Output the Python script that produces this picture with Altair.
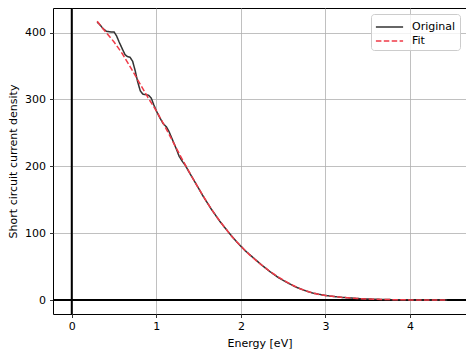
import altair as alt
import pandas as pd

orig_x = [0.30, 0.33, 0.37, 0.41, 0.46, 0.50, 0.53, 0.56, 0.60, 0.63, 0.66, 0.69, 0.72, 0.75, 0.78, 0.81,
          0.84, 0.88, 0.91, 0.94, 0.97, 1.00, 1.04, 1.08, 1.12, 1.15, 1.19, 1.23, 1.27, 1.31, 1.34, 1.38,
          1.45, 1.55, 1.65, 1.75, 1.85, 1.95, 2.05, 2.15, 2.25, 2.35, 2.45, 2.55, 2.65, 2.75, 2.85, 2.95,
          3.05, 3.20, 3.40, 3.60, 3.80, 4.00, 4.20, 4.44]
orig_y = [416, 412, 406, 402, 401, 401, 395, 386, 375, 367, 364, 363, 357, 343, 326, 313,
          308, 307, 306, 302, 292, 283, 273, 264, 259, 252, 240, 228, 215, 207, 202, 193,
          178, 156, 136, 118, 102, 87, 74, 63, 52, 42, 33, 26, 19.5, 14.5, 10.5, 8,
          6, 4, 2.2, 1.2, 0.6, 0.3, 0.15, 0.05]

fit_x = [0.30, 0.40, 0.50, 0.60, 0.70, 0.80, 0.90, 1.00, 1.10, 1.20, 1.30, 1.40, 1.50, 1.60, 1.70, 1.80,
         1.90, 2.00, 2.10, 2.20, 2.30, 2.40, 2.50, 2.60, 2.70, 2.80, 2.90, 3.00, 3.20, 3.40, 3.60, 3.80,
         4.00, 4.20, 4.44]
fit_y = [417, 401, 386, 368, 347, 325, 303, 283, 260, 236, 212, 189, 167, 146, 127, 110,
         94, 80.5, 68, 57, 47, 38, 30, 23, 17, 12.5, 9, 6.8, 4, 2.2, 1.2, 0.6,
         0.3, 0.15, 0.05]

series_names = ["Original", "Fit"]
x_ticks = [0, 1, 2, 3, 4]
y_ticks = [0, 100, 200, 300, 400]

df_orig = pd.DataFrame({"Energy": orig_x, "J": orig_y, "Series": series_names[0]})
df_fit = pd.DataFrame({"Energy": fit_x, "J": fit_y, "Series": series_names[1]})

xscale = alt.Scale(domain=[-0.222, 4.662], nice=False, zero=False)
yscale = alt.Scale(domain=[-20.8, 436.8], nice=False, zero=False)

font = "DejaVu Sans"

legend = alt.Legend(title=None, orient="none", legendX=318, legendY=6,
                    fillColor="rgba(255,255,255,0.8)", strokeColor="#cccccc", cornerRadius=3,
                    padding=4, symbolType="M-1.7,0H1.7", symbolSize=256,
                    symbolOffset=5.5, labelOffset=13.5,
                    symbolStrokeWidth=1.5, labelFontSize=11, labelFont=font,
                    labelColor="black", rowPadding=0)

enc = dict(
    x=alt.X("Energy:Q", scale=xscale,
            axis=alt.Axis(title="Energy [eV]", values=x_ticks, format="d",
                          titleBaseline="alphabetic", titleY=32)),
    y=alt.Y("J:Q", scale=yscale,
            axis=alt.Axis(title="Short circuit current density", values=y_ticks, format="d",
                          titleBaseline="alphabetic", titleX=-37, titleAngle=270)),
    color=alt.Color("Series:N", scale=alt.Scale(domain=series_names, range=["#333333", "#f03a47"]),
                    legend=legend),
    strokeDash=alt.StrokeDash("Series:N", scale=alt.Scale(domain=series_names, range=[[1, 0], [5.5, 2.4]]),
                              legend=legend),
    order=alt.Order("Energy:Q"),
)

line_orig = alt.Chart(df_orig).mark_line(strokeWidth=1.5).encode(**enc)
line_fit = alt.Chart(df_fit).mark_line(strokeWidth=1.5).encode(**enc)

hline = alt.Chart(pd.DataFrame({"v": [0]})).mark_rule(color="black", strokeWidth=2).encode(
    y=alt.Y("v:Q", scale=yscale))
vline = alt.Chart(pd.DataFrame({"v": [0]})).mark_rule(color="black", strokeWidth=2).encode(
    x=alt.X("v:Q", scale=xscale))

chart = alt.layer(hline, vline, line_orig, line_fit).properties(
    width=413, height=306,
    autosize=alt.AutoSizeParams(type="none"),
    padding={"left": 45, "top": 0, "right": 0, "bottom": 36},
).configure_view(
    stroke="black", strokeWidth=1
).configure_axis(
    grid=True, gridColor="#b0b0b0", gridWidth=0.8,
    domain=False, tickColor="black", tickSize=3.5, tickWidth=0.8,
    labelFont=font, labelFontSize=11, labelColor="black",
    titleFont=font, titleFontSize=11, titleColor="black", titleFontWeight="normal",
).configure_axisX(labelPadding=3, labelFlush=False).configure_axisY(labelPadding=4, labelFlush=False)

chart.save("out.html", embed_options={"renderer": "svg", "actions": False})
